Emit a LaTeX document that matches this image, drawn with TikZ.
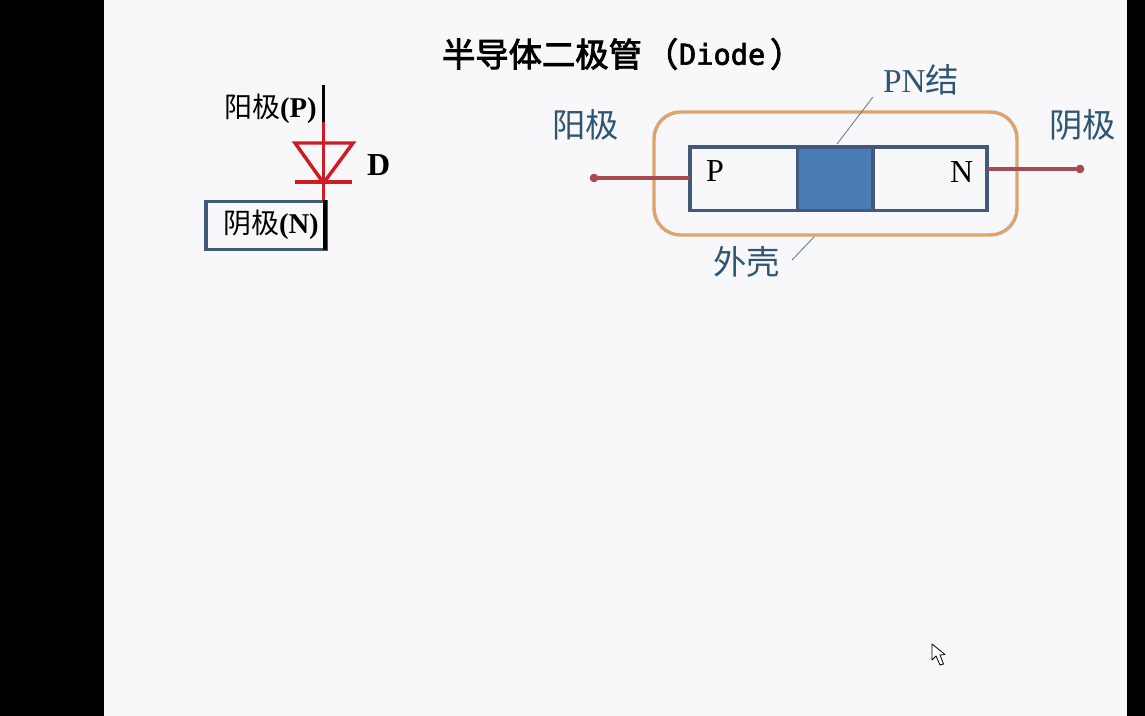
\documentclass[tikz,border=0pt]{standalone}
\usepackage{fontspec}
\setmainfont{Liberation Serif}
\newfontfamily\cjk{Noto Sans CJK SC}
\newfontfamily\titlecjk{Noto Sans CJK SC}[FakeBold=2.6]
\newfontfamily\titlemono{DejaVu Sans Mono}[FakeBold=2.2]
\definecolor{pagebg}{HTML}{F8F8FB}
\definecolor{boxblue}{HTML}{42597A}
\definecolor{labelblue}{HTML}{2F5573}
\definecolor{shell}{HTML}{DDA56E}
\definecolor{wire}{HTML}{A44C50}
\definecolor{pnfill}{HTML}{4A7DB5}
\definecolor{diodered}{HTML}{CF1C24}
\tikzset{
  x=0.75pt,y=-0.75pt,
  txt/.style={inner sep=0pt,outer sep=0pt,anchor=west},
  sidelabel/.style={txt,text=labelblue,font=\cjk\fontsize{25}{28}\selectfont},
  symlabel/.style={txt,text=black,font=\fontsize{21}{24}\selectfont},
  latin/.style={txt,text=black,font=\fontsize{24}{28}\selectfont},
  blackbar/.style={draw=black,line width=2.6pt},
  redline/.style={draw=diodered,line width=2.6pt},
  wireline/.style={draw=wire,line width=2.6pt},
  wiredot/.style={circle,fill=wire,draw=none,minimum size=6.5pt,inner sep=0pt,outer sep=0pt},
  leader/.style={draw=labelblue!80,line width=0.6pt},
  bluebox/.style={draw=boxblue,line width=2.6pt},
}
\begin{document}
\begin{tikzpicture}
\useasboundingbox (0,0) rectangle (1145,716);
\fill[pagebg] (0,0) rectangle (1145,716);
\fill[black] (0,0) rectangle (104,716);
\fill[black] (1127,0) rectangle (1145,716);

% title
\node[txt,font=\titlecjk\fontsize{25}{28}\selectfont,text=black] (title) at (442,54) {半导体二极管};
\node[txt,font=\titlecjk\fontsize{25}{28}\selectfont,text=black] (topen) at (645,54) {（};
\node[txt,font=\titlemono\fontsize{21.5}{28}\selectfont,text=black] (tdiode) at (679,54) {Diode};
\node[txt,font=\titlecjk\fontsize{25}{28}\selectfont,text=black] (tclose) at (770,54) {）};

% left diode symbol
\coordinate (ptop) at (323.5,85);
\coordinate (pjoin) at (323.5,122);
\coordinate (njoin) at (323.5,201);
\coordinate (triL) at (295,143);
\coordinate (triR) at (353,143);
\coordinate (triB) at (323.5,183);
\coordinate (barL) at (295,182);
\coordinate (barR) at (352,182);
\draw[bluebox] (206,201.5) rectangle (326,249.5);
\coordinate (nbartop) at (325,200);
\coordinate (nbarbot) at (325,250);
\draw[blackbar] (ptop) -- (pjoin);
\draw[redline] (pjoin) -- (njoin);
\draw[redline,line join=miter] (triL) -- (triR) -- (triB) -- cycle;
\draw[redline] (barL) -- (barR);
\draw[blackbar] (nbartop) -- (nbarbot);
\node[symlabel] (panode) at (224,109) {{\cjk 阳极}\fontsize{21.5}{24}\selectfont\textbf{(P)}};
\node[symlabel] (ncath) at (223,225) {{\cjk 阴极}\fontsize{21.5}{24}\selectfont\textbf{(N)}};
\node[txt,text=black,font=\fontsize{24}{28}\selectfont\bfseries] (dlabel) at (367,165) {D};

% right structure
\draw[draw=shell,line width=2.6pt,rounded corners=20] (654,112) rectangle (1017,235);
\node[wiredot] (ldot) at (594,178) {};
\node[wiredot] (rdot) at (1080,169) {};
\coordinate (lend) at (689,178);
\coordinate (rend) at (988,169);
\draw[bluebox,fill=pagebg] (690,147) rectangle (987,210.5);
\draw[bluebox,fill=pnfill] (797.5,147) rectangle (873,210.5);
\draw[wireline] (ldot) -- (lend);
\draw[wireline] (rend) -- (rdot);
\node[latin] (plabel) at (706,171) {P};
\node[latin] (nlabel) at (950,172) {N};
\node[sidelabel] (lanode) at (552,125) {阳极};
\node[sidelabel] (rcath) at (1049,125) {阴极};
\node[txt,text=labelblue,font=\fontsize{25}{28}\selectfont] (pnj) at (883,80) {PN{\cjk 结}};
\node[sidelabel] (shelllabel) at (713,262) {外壳};
\coordinate (pna) at (873,97);
\coordinate (pnb) at (837,144);
\coordinate (sha) at (814,237);
\coordinate (shb) at (792,260);
\draw[leader] (pna) -- (pnb);
\draw[leader] (sha) -- (shb);

% mouse pointer
\draw[fill=white,draw=black,line width=0.6pt,line join=round]
  (932,644) -- (932,660) -- (936,656) -- (940,665) -- (943.5,664) -- (940,655) -- (945,654.5) -- cycle;
\end{tikzpicture}
\end{document}
